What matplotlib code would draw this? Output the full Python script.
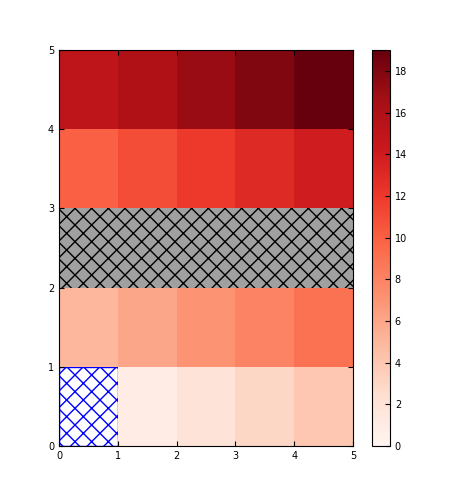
import numpy as np
import matplotlib
matplotlib.use("Agg")
import matplotlib.pyplot as plt
from matplotlib.patches import Rectangle

row0 = [0, 1, 2, 3, 4]
row1 = [5, 6, 7, 8, 9]
row2 = [np.nan] * 5
row3 = [10, 11, 12, 13, 14]
row4 = [15, 16, 17, 18, 19]
data = np.ma.masked_invalid(np.array([row0, row1, row2, row3, row4], dtype=float))
data[0, 0] = np.ma.masked

W, H = 474, 496
fig = plt.figure(figsize=(W/100, H/100), dpi=100)
ax = fig.add_axes([59/W, 1-446/H, (353-59)/W, (446-50)/H])
cax = fig.add_axes([372/W, 1-446/H, (390-372)/W, (446-50)/H])

ax.add_patch(Rectangle((0, 2), 5, 1, facecolor='#a0a0a0', edgecolor='black', hatch='xx', lw=0, zorder=0))
ax.add_patch(Rectangle((0, 0), 1, 1, facecolor='white', edgecolor='blue', hatch='xx', lw=1, zorder=0))
pc = ax.pcolormesh(data, cmap='Reds', vmin=0, vmax=19, zorder=1)
ax.set_xlim(0, 5); ax.set_ylim(0, 5)
for a in (ax,):
    a.tick_params(direction='in', top=True, right=True, labelsize=7)
cb = fig.colorbar(pc, cax=cax)
cb.set_ticks(range(0, 19, 2))
cax.tick_params(labelsize=7, direction='in')
fig.savefig('out.png', dpi=100)
